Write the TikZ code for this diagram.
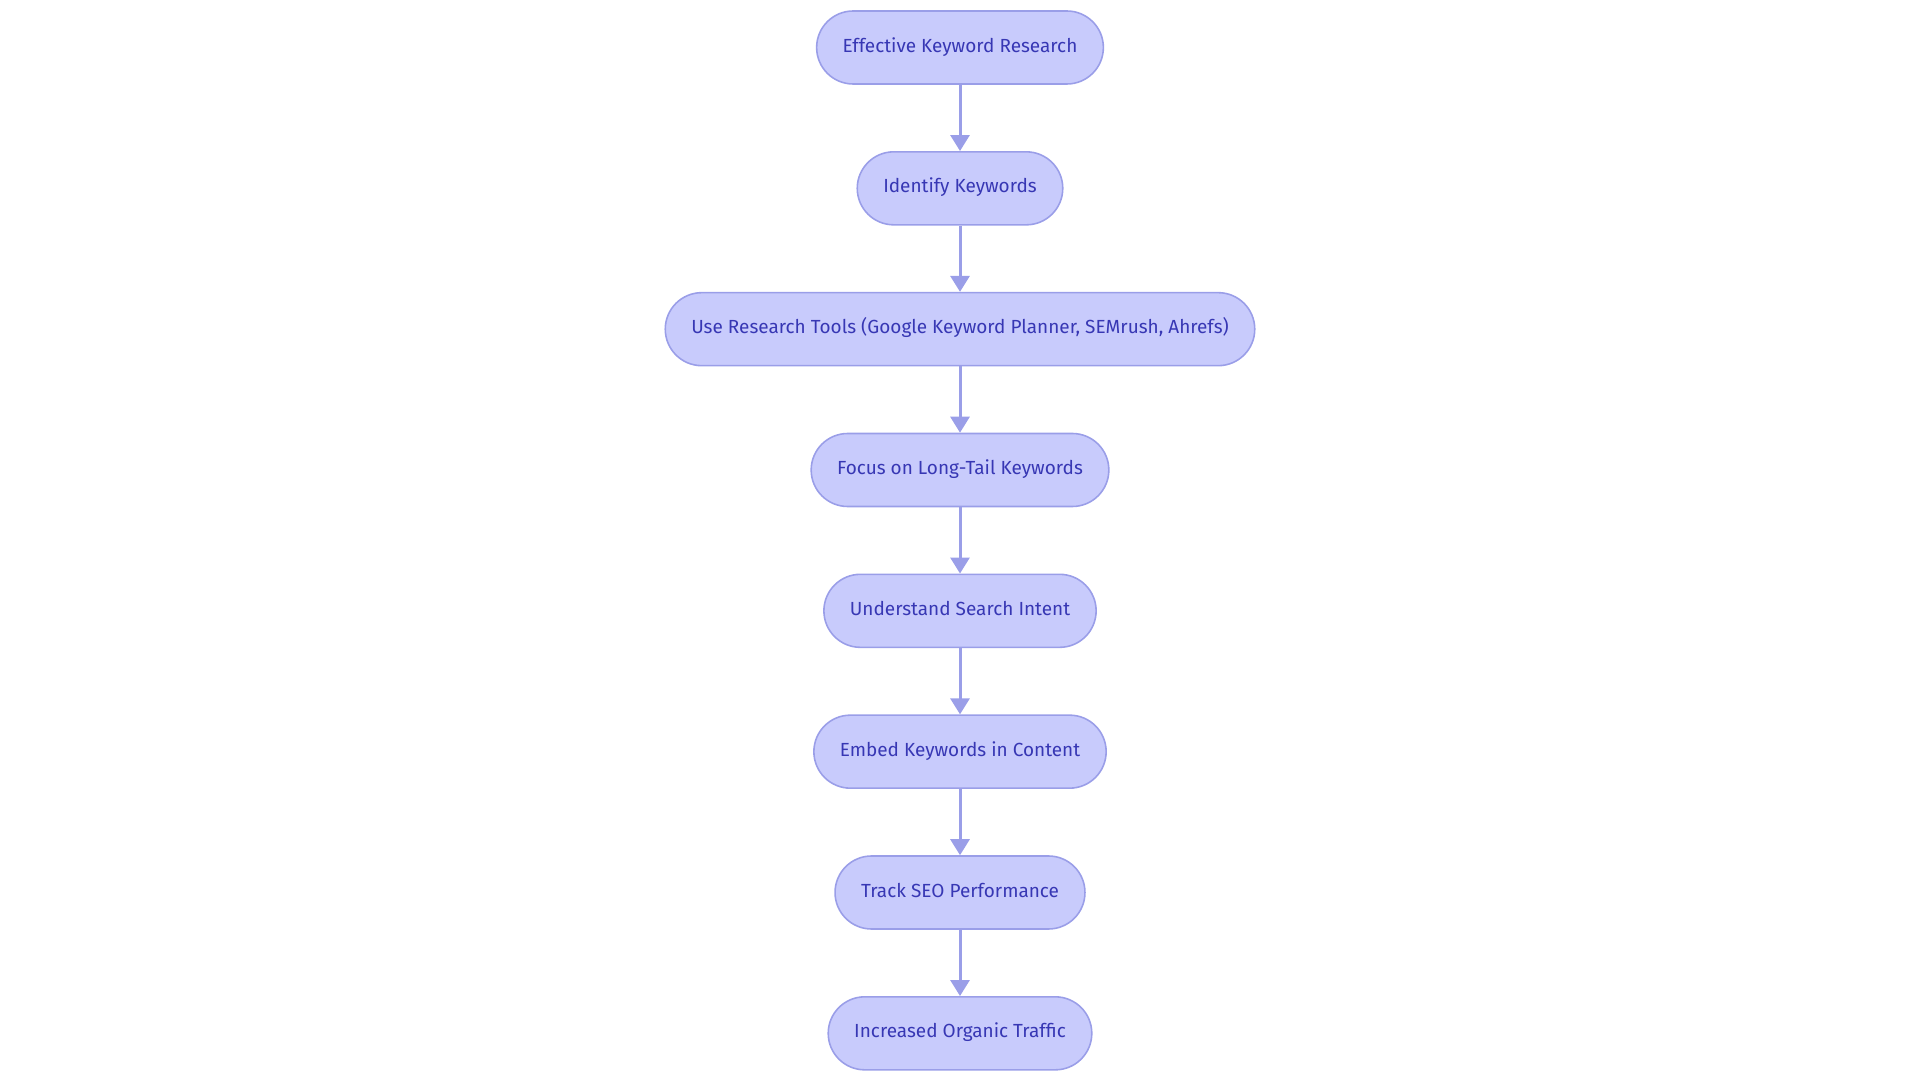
\documentclass[tikz,border=0pt]{standalone}
\usepackage{fontspec}
\setmainfont{Fira Sans}
\usetikzlibrary{positioning,arrows.meta}
\definecolor{stepfill}{HTML}{C8CBFC}
\definecolor{stepline}{HTML}{9A9EE8}
\definecolor{steptext}{HTML}{3737B4}
\tikzset{
  stepbox/.style={draw=stepline,line width=0.9pt,fill=stepfill,text=steptext,
    rounded corners=0.73cm,minimum height=1.46cm,inner xsep=0.52cm,
    text height=0.75em,text depth=0.22em,
    font=\fontsize{10.8}{13}\selectfont},
  flow/.style={draw=stepline,line width=1.7pt,
    -{Triangle[length=0.32cm,width=0.38cm]}}
}
\begin{document}
\begin{tikzpicture}[node distance=1.325cm]
  \useasboundingbox (0,0) rectangle (38.4,-21.66);
  % steps, top to bottom
  \node[stepbox] (research) at (19.2,-0.95) {Effective Keyword Research};
  \node[stepbox,below=of research] (identify) {Identify Keywords};
  \node[stepbox,below=of identify] (tools) {Use Research Tools (Google Keyword Planner, SEMrush, Ahrefs)};
  \node[stepbox,below=of tools] (longtail) {Focus on Long-Tail Keywords};
  \node[stepbox,below=of longtail] (intent) {Understand Search Intent};
  \node[stepbox,below=of intent] (embed) {Embed Keywords in Content};
  \node[stepbox,below=of embed] (track) {Track SEO Performance};
  \node[stepbox,below=of track] (traffic) {Increased Organic Traffic};
  % connectors
  \foreach \a/\b in {research/identify, identify/tools, tools/longtail,
      longtail/intent, intent/embed, embed/track, track/traffic}
    \draw[flow] (\a) -- (\b);
\end{tikzpicture}
\end{document}
